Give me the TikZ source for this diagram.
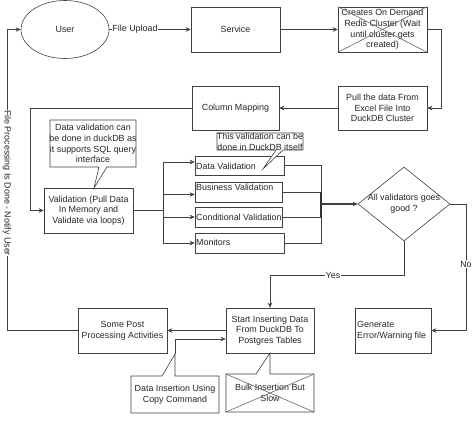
\documentclass[tikz,border=0pt]{standalone}
\usepackage{fontspec}
\setmainfont{Liberation Sans}
\usetikzlibrary{shapes.geometric,arrows.meta,calc}
\begin{document}
\begin{tikzpicture}[x=1pt,y=-1pt,
  every node/.style={font=\fontsize{8.9}{10.7}\selectfont, text=black!85},
  box/.style={draw=black!75, line width=0.6pt, inner sep=0pt, align=center},
  conn/.style={draw=black!75, line width=0.6pt, -{Stealth[length=5pt,width=4.5pt]}},
  plain/.style={draw=black!75, line width=0.6pt},
  lbl/.style={fill=white, inner sep=0.5pt},
  txt/.style={inner sep=0pt, align=center}
]
\useasboundingbox (0,0) rectangle (474,427);

% main nodes
\node[box, ellipse, minimum width=88pt, minimum height=58pt] (user) at (65,29.5) {User};
\node[box, minimum width=89pt, minimum height=45pt] (service) at (235.5,29.5) {Service};
\node[box, minimum width=89pt, minimum height=45pt] (creates) at (382.5,29.5) {Creates On Demand\\Redis Cluster (Wait\\until cluster gets\\created)};
\draw[plain, black!60] (creates.north west) -- (creates.south east) (creates.north east) -- (creates.south west);
\node[box, minimum width=89pt, minimum height=44pt] (pull) at (382.5,108) {Pull the data From\\Excel File Into\\DuckDB Cluster};
\node[box, minimum width=87pt, minimum height=44pt] (colmap) at (235.5,108) {Column Mapping};
\node[box, minimum width=89pt, minimum height=45pt] (valid) at (88.5,210.5) {Validation (Pull Data\\In Memory and\\Validate via loops)};

\node[box, minimum width=89pt, minimum height=19pt] (dv) at (239.5,165.5) {};
\node[txt, anchor=west] (dvt) at (196,166) {Data Validation};
\node[box, minimum width=87pt, minimum height=20pt] (bv) at (238.5,192) {};
\node[txt, anchor=west] (bvt) at (196,187.5) {Business Validation};
\node[box, minimum width=87pt, minimum height=20pt] (cv) at (238.5,217) {};
\node[txt, anchor=west] (cvt) at (196,217) {Conditional Validation};
\node[box, minimum width=89pt, minimum height=20pt] (mon) at (239.5,243) {};
\node[txt, anchor=west] (mont) at (196,242.5) {Monitors};

\node[box, diamond, minimum width=92pt, minimum height=74pt] (dia) at (404,204) {};
\node[txt] (diat) at (dia.center) {All validators goes\\good ?};

\node[box, minimum width=88pt, minimum height=45pt] (start) at (270,330.5) {Start Inserting Data\\From DuckDB To\\Postgres Tables};
\node[box, minimum width=76pt, minimum height=45pt] (gen) at (393,330.5) {};
\node[txt, anchor=west, align=left] (gent) at (357,331) {Generate\\Error/Warning file};
\node[box, minimum width=89pt, minimum height=45pt] (post) at (122.5,330.5) {Some Post\\Processing Activities};

% callouts
\draw[plain, fill=white] (50,120) -- (136,120) -- (136,167) -- (107,167) -- (94,188) -- (99,167) -- (50,167) -- cycle;
\node[txt] (c1) at (93,143.5) {Data validation can\\be done in duckDB as\\it supports SQL query\\interface};
\draw[plain, fill=white] (217,133) -- (303,133) -- (303,150) -- (283,150) -- (263,169) -- (276,150) -- (217,150) -- cycle;
\node[txt] (c2) at (260,141.5) {This validation can be\\done in DuckDB itself};
\draw[plain, fill=white] (131,376) -- (162,376) -- (175,354) -- (175,376) -- (219,376) -- (219,413) -- (131,413) -- cycle;
\node[txt] (c3) at (175,394.5) {Data Insertion Using\\Copy Command};
\coordinate (c3tip) at (175,354);
\draw[plain, fill=white] (226,374) -- (256,374) -- (270,353) -- (270,374) -- (314,374) -- (314,412) -- (226,412) -- cycle;
\node[txt] (c4) at (270,393) {Bulk Insertion But\\Slow};
\draw[plain, black!60] (226,374) -- (314,412) (314,374) -- (226,412);

% connectors
\draw[conn] (user.east) -- (service.west);
\node[lbl] (fu) at (135,29.5) {File Upload};
\draw[conn] (service.east) -- (creates.west);
\draw[conn] (creates.east) -- (441,29.5) |- (pull.east);
\draw[conn] (pull.west) -- (colmap.east);
\draw[conn] (colmap.west) -- (30,108) |- (valid.west);

\coordinate (vb) at (163,210.5);
\draw[plain] (valid.east) -- (vb);
\draw[conn] (vb) |- ([yshift=3.5pt]dv.west);
\draw[conn] (vb) |- ([yshift=-2.5pt]bv.west);
\draw[conn] (vb) |- (cv.west);
\draw[conn] (vb) |- (mon.west);

\coordinate (mb) at (321,204);
\draw[plain] (dv.east) -| (mb);
\draw[plain] (bv.east) -| (mb);
\draw[plain] (cv.east) -| (mb);
\draw[plain] (mon.east) -| (mb);
\draw[draw=black!80, line width=1.3pt] (321,192) -- (321,217);
\draw[conn, line width=1.2pt] (mb) -- (dia.west);

\draw[conn] (dia.south) -- (404,275) -| (start.north);
\node[lbl] (yes) at (333,275) {Yes};
\draw[conn] (dia.east) -- (466,204) |- (gen.east);
\node[lbl] (no) at (466,264) {No};

\draw[conn] (start.west) -- (post.east);
\draw[conn] (c3tip) |- ([yshift=-8.5pt]start.west);
\draw[conn] (post.west) -- (7,330.5) -- (7,29.5) -- (user.west);
\node[lbl, rotate=-90] (fpl) at (7,183) {File Processing Is Done - Notify User};
\end{tikzpicture}
\end{document}
